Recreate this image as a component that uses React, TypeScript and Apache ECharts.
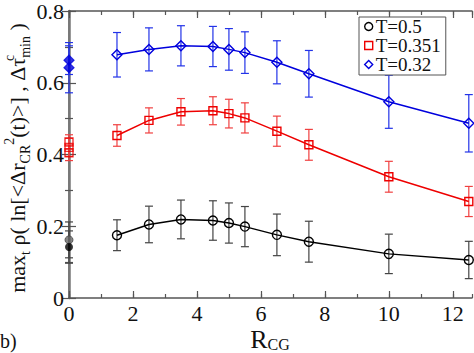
import React, { useEffect, useRef } from "react";
import * as echarts from "echarts";

// ---- data ----
const rcg = [1.5, 2.5, 3.5, 4.5, 5, 5.5, 6.5, 7.5, 10, 12.5];
const t05 = [0.175, 0.205, 0.219, 0.216, 0.209, 0.199, 0.176, 0.157, 0.123, 0.106];
const t05Err = [0.043, 0.051, 0.054, 0.055, 0.056, 0.056, 0.058, 0.057, 0.055, 0.052];
const t0351 = [0.453, 0.495, 0.519, 0.522, 0.514, 0.502, 0.465, 0.427, 0.338, 0.269];
const t0351Err = [0.03, 0.035, 0.037, 0.039, 0.04, 0.042, 0.042, 0.043, 0.043, 0.042];
const t032 = [0.678, 0.693, 0.703, 0.701, 0.693, 0.684, 0.657, 0.625, 0.547, 0.487];
const t032Err = [0.062, 0.06, 0.056, 0.056, 0.058, 0.058, 0.06, 0.065, 0.074, 0.08];

// reference points at R_CG = 0
const zeroBlackGray = [0.162];
const zeroBlackGrayErr = [0.05];
const zeroBlack = [0.142];
const zeroBlackErr = [0.045];
const zeroRed = [0.435, 0.42, 0.405];
const zeroRedErr = [0.02, 0.025, 0.022];
const zeroBlue = [0.663, 0.642];
const zeroBlueErr = [0.04, 0.07];

const xTicksMajor = 2;
const yTicks = 0.2;
const legendNames = ["T=0.5", "T=0.351", "T=0.32"];

const FONT = "Liberation Serif";

function errData(xs: number[], ys: number[], es: number[]) {
  return ys.map((y, i) => [xs[i], y, es[i]]);
}
function zeroX(ys: number[]) {
  return ys.map(() => 0);
}

function errorSeries(data: number[][], color: string) {
  return {
    type: "custom",
    data,
    encode: { x: 0, y: 1 },
    z: 1,
    silent: true,
    renderItem: (params: any, api: any) => {
      const x = api.value(0);
      const y = api.value(1);
      const e = api.value(2);
      const top = api.coord([x, y + e]);
      const bot = api.coord([x, y - e]);
      const h = 4;
      const st = { stroke: color, lineWidth: 1.2 };
      return {
        type: "group",
        children: [
          { type: "line", shape: { x1: top[0], y1: top[1], x2: bot[0], y2: bot[1] }, style: st },
          { type: "line", shape: { x1: top[0] - h, y1: top[1], x2: top[0] + h, y2: top[1] }, style: st },
          { type: "line", shape: { x1: bot[0] - h, y1: bot[1], x2: bot[0] + h, y2: bot[1] }, style: st },
        ],
      };
    },
  };
}

function pts(xs: number[], ys: number[]) {
  return ys.map((y, i) => [xs[i], y]);
}

export default function App() {
  const ref = useRef<HTMLDivElement>(null);
  useEffect(() => {
    if (!ref.current) return;
    const chart = echarts.init(ref.current, undefined, { renderer: "svg" });
    const axisColor = "#555";
    const labelStyle = { fontFamily: FONT, fontSize: 22, color: "#111" };
    const commonX = { type: "value", min: 0, max: 12.6, splitLine: { show: false } };
    const commonY = { type: "value", min: 0, max: 0.8, interval: yTicks, splitLine: { show: false } };

    const lineSeries = (name: string, data: number[][], color: string, symbol: string, size: number) => ({
      name,
      type: "line",
      data,
      symbol,
      symbolSize: size,
      z: 3,
      lineStyle: { color, width: 1.5 },
      itemStyle: { color: "rgba(0,0,0,0)", borderColor: color, borderWidth: 1.4 },
    });

    const option: any = {
      animation: false,
      backgroundColor: "#fff",
      grid: { left: 69, top: 9, width: 403, height: 289, containLabel: false },
      xAxis: [
        {
          ...commonX,
          interval: xTicksMajor,
          position: "bottom",
          axisLine: { show: true, lineStyle: { color: axisColor, width: 1.5 } },
          axisTick: { show: true, inside: true, length: 7, lineStyle: { color: axisColor, width: 1.2 } },
          axisLabel: { ...labelStyle, margin: 4, showMaxLabel: false },
        },
        {
          ...commonX,
          interval: 1,
          position: "bottom",
          axisLine: { show: false },
          axisTick: { show: true, inside: true, length: 4, lineStyle: { color: axisColor, width: 1.2 } },
          axisLabel: { show: false },
        },
        {
          ...commonX,
          interval: xTicksMajor,
          position: "top",
          axisLine: { show: true, lineStyle: { color: axisColor, width: 1.5 } },
          axisTick: { show: true, inside: true, length: 7, lineStyle: { color: axisColor, width: 1.2 } },
          axisLabel: { show: false },
        },
        {
          ...commonX,
          interval: 1,
          position: "top",
          axisLine: { show: false },
          axisTick: { show: true, inside: true, length: 4, lineStyle: { color: axisColor, width: 1.2 } },
          axisLabel: { show: false },
        },
      ],
      yAxis: [
        {
          ...commonY,
          position: "left",
          axisLine: { show: true, lineStyle: { color: axisColor, width: 1.5 } },
          axisTick: { show: true, inside: true, length: 7, lineStyle: { color: axisColor, width: 1.2 } },
          minorTick: { show: true, splitNumber: 2, length: 4, lineStyle: { color: axisColor, width: 1.2 } },
          axisLabel: { ...labelStyle, margin: 5 },
        },
        {
          ...commonY,
          position: "right",
          axisLine: { show: true, lineStyle: { color: "#777", width: 2.5 } },
          axisTick: { show: true, inside: true, length: 7, lineStyle: { color: axisColor, width: 1.2 } },
          minorTick: { show: true, splitNumber: 2, length: 4, lineStyle: { color: axisColor, width: 1.2 } },
          axisLabel: { show: false },
        },
      ],
      legend: {
        orient: "vertical",
        left: 359,
        top: 17,
        padding: [0, 5, 1, 5],
        itemGap: 0,
        itemWidth: 8,
        itemHeight: 8,
        backgroundColor: "#fff",
        borderColor: "#555",
        borderWidth: 1,
        borderRadius: 0,
        textStyle: { fontFamily: FONT, fontSize: 19, color: "#111", lineHeight: 19, padding: [0, 0, 0, -2] },
        data: [
          { name: legendNames[0], icon: "circle", itemStyle: { color: "rgba(0,0,0,0)", borderColor: "#000", borderWidth: 1.4 } },
          { name: legendNames[1], icon: "rect", itemStyle: { color: "rgba(0,0,0,0)", borderColor: "#e00", borderWidth: 1.4 } },
          { name: legendNames[2], icon: "diamond", itemStyle: { color: "rgba(0,0,0,0)", borderColor: "#00d", borderWidth: 1.4 } },
        ],
      },
      series: [
        errorSeries(errData(rcg, t05, t05Err), "#444"),
        errorSeries(errData(rcg, t0351, t0351Err), "#f04040"),
        errorSeries(errData(rcg, t032, t032Err), "#2233e8"),
        errorSeries(errData(zeroX(zeroBlackGray), zeroBlackGray, zeroBlackGrayErr), "#444"),
        errorSeries(errData(zeroX(zeroBlack), zeroBlack, zeroBlackErr), "#444"),
        errorSeries(errData(zeroX(zeroRed), zeroRed, zeroRedErr), "#f04040"),
        errorSeries(errData(zeroX(zeroBlue), zeroBlue, zeroBlueErr), "#2233e8"),
        lineSeries(legendNames[0], pts(rcg, t05), "#000", "circle", 9),
        lineSeries(legendNames[1], pts(rcg, t0351), "#e00", "rect", 8),
        lineSeries(legendNames[2], pts(rcg, t032), "#00d", "diamond", 10),
        {
          type: "scatter",
          data: pts(zeroX(zeroBlackGray), zeroBlackGray),
          symbol: "circle",
          symbolSize: 8,
          z: 4,
          itemStyle: { color: "#666", borderColor: "#444", borderWidth: 1 },
        },
        {
          type: "scatter",
          data: pts(zeroX(zeroBlack), zeroBlack),
          symbol: "circle",
          symbolSize: 8,
          z: 4,
          itemStyle: { color: "#000" },
        },
        {
          type: "scatter",
          data: pts(zeroX(zeroRed), zeroRed),
          symbol: "rect",
          symbolSize: 8,
          z: 4,
          itemStyle: { color: "rgba(0,0,0,0)", borderColor: "#e00", borderWidth: 1.4 },
        },
        {
          type: "scatter",
          data: pts(zeroX(zeroBlue), zeroBlue),
          symbol: "diamond",
          symbolSize: 10,
          z: 4,
          itemStyle: { color: "#0000dd", borderColor: "#00d", borderWidth: 1.2 },
        },
      ],
      graphic: [
        {
          type: "text",
          x: 17,
          y: 158,
          rotation: Math.PI / 2,
          style: {
            text: "{m|max}{s|t}{m| ρ( ln[<Δr}{s|CR}{p|2}{m|(t)>] , Δτ}{pc|c}{s|min}{m| )}",
            align: "center",
            verticalAlign: "middle",
            rich: {
              m: { fontFamily: FONT, fontSize: 22, lineHeight: 30, verticalAlign: "middle", fill: "#111" },
              s: { fontFamily: FONT, fontSize: 14, lineHeight: 14, verticalAlign: "bottom", fill: "#111" },
              p: { fontFamily: FONT, fontSize: 14, lineHeight: 14, verticalAlign: "top", fill: "#111" },
              pc: { fontFamily: FONT, fontSize: 14, lineHeight: 14, verticalAlign: "top", width: 0, fill: "#111" },
            },
          },
        },
        {
          type: "text",
          x: 270,
          y: 339,
          style: {
            text: "{r|R}{s|CG}",
            align: "center",
            verticalAlign: "middle",
            rich: {
              r: { fontFamily: FONT, fontSize: 26, lineHeight: 26, verticalAlign: "middle", fill: "#111" },
              s: { fontFamily: FONT, fontSize: 16, lineHeight: 14, verticalAlign: "bottom", fill: "#111" },
            },
          },
        },
        {
          type: "text",
          x: 0,
          y: 341,
          style: { text: "b)", fontFamily: FONT, fontSize: 20, fill: "#111", verticalAlign: "middle" },
        },
      ],
    };
    chart.setOption(option);
    return () => chart.dispose();
  }, []);
  return <div ref={ref} style={{ width: 474, height: 353, position: "absolute", left: 0, top: 0 }} />;
}
